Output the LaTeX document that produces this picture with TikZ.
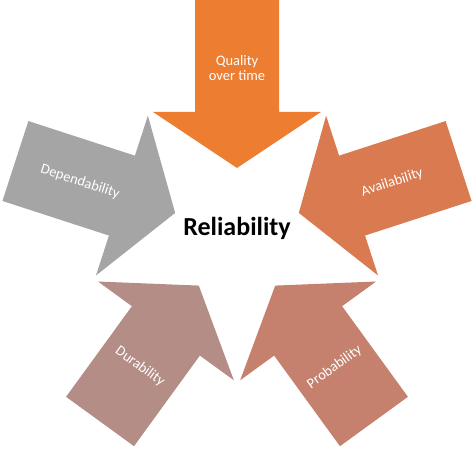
\documentclass[tikz,border=0pt]{standalone}
\usepackage{fontspec}
\setmainfont{Carlito}
\usetikzlibrary{calc}
\definecolor{cTop}{HTML}{ED7D31}
\definecolor{cAvail}{HTML}{D97A50}
\definecolor{cProb}{HTML}{C5806E}
\definecolor{cDura}{HTML}{B48D87}
\definecolor{cDep}{HTML}{A5A5A5}
\tikzset{
  lbl/.style={text=white, font=\fontsize{14.5}{15}\selectfont, align=center, inner sep=0pt},
  blockarrow/.pic={
    \fill[pic actions] (65pt,0) -- (121pt,84pt) -- (121pt,42pt) -- (233pt,42pt)
      -- (233pt,-42pt) -- (121pt,-42pt) -- (121pt,-84pt) -- cycle;
  }
}
\begin{document}
\begin{tikzpicture}[x=1pt,y=1pt]
\useasboundingbox (0,0) rectangle (474,450);
\coordinate (c) at (237,217);
% arrows
\pic[fill=cTop, rotate=90] at (c) {blockarrow};
\pic[fill=cAvail, rotate=18] at (c) {blockarrow};
\pic[fill=cProb, rotate=-54] at (c) {blockarrow};
\pic[fill=cDura, rotate=234] at (c) {blockarrow};
\pic[fill=cDep, rotate=162] at (c) {blockarrow};
% labels
\node[lbl] (quality) at ($(c)+(90:165)$) {Quality\\over time};
\node[lbl, rotate=18] (avail) at ($(c)+(18:163)$) {Availability};
\node[lbl, rotate=36] (prob) at ($(c)+(-54:166)$) {Probability};
\node[lbl, rotate=-36] (dura) at ($(c)+(234:165)$) {Durability};
\node[lbl, rotate=-18] (dep) at ($(c)+(162:165)$) {Dependability};
\node[font=\fontsize{26}{30}\selectfont\bfseries, inner sep=0pt] (rel) at (237,222) {Reliability};
\end{tikzpicture}
\end{document}
